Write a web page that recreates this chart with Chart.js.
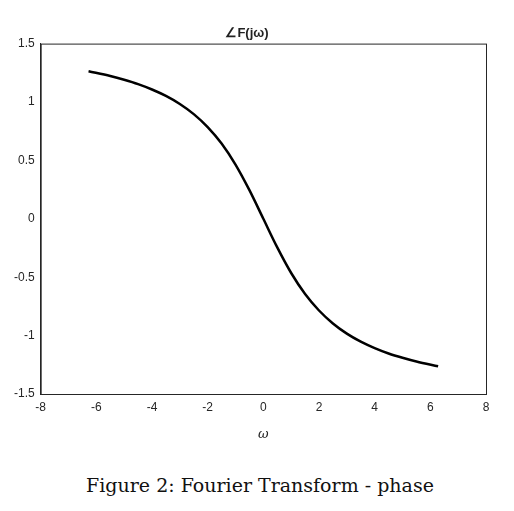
<!DOCTYPE html>
<html>
<head>
<script src="https://cdn.jsdelivr.net/npm/chart.js@4"></script>
<style>
  body { margin: 0; background: #fff; }
  #wrap { width: 514px; height: 450px; position: relative; }
  #caption { font-family: "DejaVu Serif", "Liberation Serif", serif; font-size: 19px; text-align: center; margin-top: 24px; color: #111; padding-left: 6px; }
</style>
</head>
<body>
<div id="wrap"><canvas id="phaseChart"></canvas></div>
<div id="caption">Figure 2: Fourier Transform - phase</div>
<script>
const omega = [-6.28, -5.5, -5, -4.5, -4, -3.5, -3, -2.5, -2, -1.5, -1, -0.5, 0,
               0.5, 1, 1.5, 2, 2.5, 3, 3.5, 4, 4.5, 5, 5.5, 6.28];
const phase = [1.263, 1.222, 1.190, 1.153, 1.107, 1.052, 0.983, 0.896, 0.785, 0.644, 0.464, 0.245, 0,
               -0.245, -0.464, -0.644, -0.785, -0.896, -0.983, -1.052, -1.107, -1.153, -1.190, -1.222, -1.263];

const tickFont = { family: 'Liberation Sans, Arial, sans-serif', size: 12 };

new Chart(document.getElementById('phaseChart'), {
    type: 'scatter',
    data: {
        datasets: [{
            data: omega.map((w, i) => ({ x: w, y: phase[i] })),
            showLine: true,
            borderColor: '#000',
            borderWidth: 2.5,
            pointRadius: 0,
            cubicInterpolationMode: 'monotone'
        }]
    },
    options: {
        responsive: true,
        maintainAspectRatio: false,
        animation: false,
        layout: { padding: { left: 8, right: 28, top: 0, bottom: 4 } },
        plugins: {
            legend: { display: false },
            title: {
                display: true,
                text: '\u2220F(j\u03C9)',
                color: '#222',
                font: { family: 'Liberation Sans, Arial, sans-serif', size: 13, weight: 'bold' },
                padding: { top: 26, bottom: 2 }
            }
        },
        scales: {
            x: {
                type: 'linear',
                min: -8, max: 8,
                ticks: { stepSize: 2, color: '#262626', font: tickFont, padding: 6 },
                grid: { display: false, drawTicks: false },
                border: { color: '#262626' },
                title: { display: true, text: '\u03C9', color: '#262626', padding: { top: 6 },
                         font: { family: 'DejaVu Serif, serif', size: 13, style: 'italic' } }
            },
            y: {
                min: -1.5, max: 1.5,
                ticks: { stepSize: 0.5, color: '#262626', font: tickFont, padding: 6,
                         callback: v => String(v) },
                grid: { display: false, drawTicks: false },
                border: { color: '#262626' }
            }
        }
    },
    plugins: [{
        id: 'box',
        afterDraw(chart) {
            const { ctx, chartArea: a } = chart;
            ctx.save();
            ctx.strokeStyle = '#262626';
            ctx.lineWidth = 1;
            ctx.strokeRect(a.left + 0.5, a.top + 0.5, a.right - a.left, a.bottom - a.top);
            ctx.restore();
        }
    }]
});
</script>
</body>
</html>
